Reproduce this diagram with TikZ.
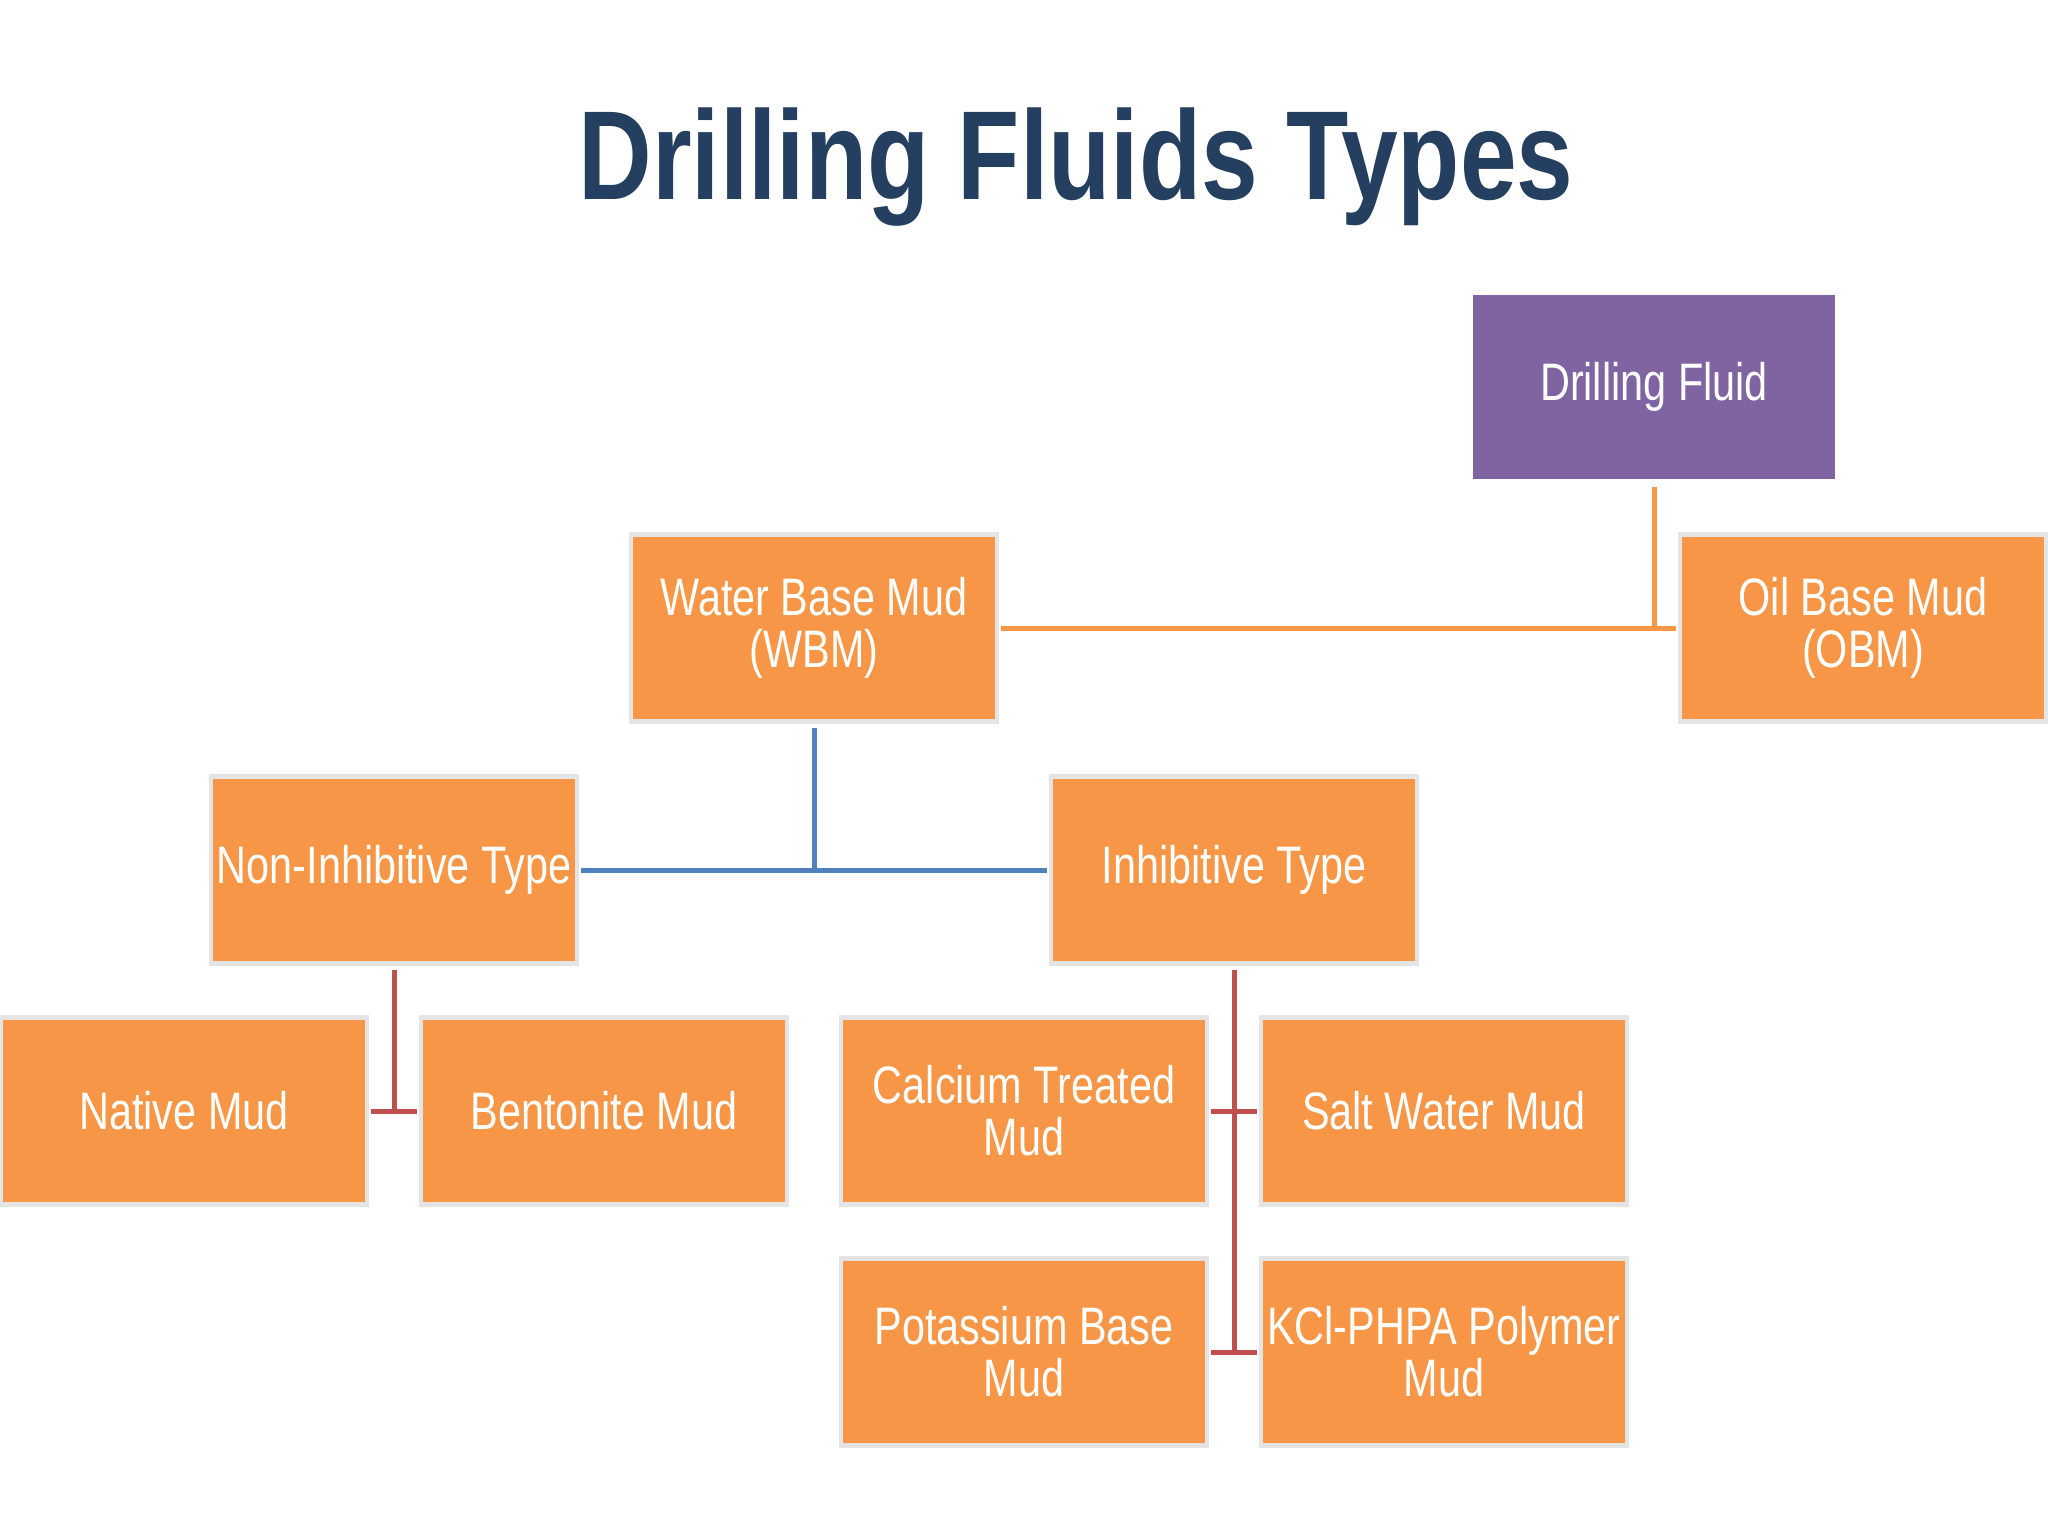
\documentclass[tikz,border=0pt]{standalone}
\usepackage{fontspec}
\newfontfamily\boxfont[FakeStretch=0.785]{Liberation Sans}
\newfontfamily\titlefont[FakeStretch=0.805]{Liberation Sans}
\definecolor{boxorange}{HTML}{F79646}
\definecolor{boxpurple}{HTML}{8064A2}
\definecolor{lineblue}{HTML}{4F81BD}
\definecolor{linered}{HTML}{C0504D}
\definecolor{titleblue}{HTML}{243F60}
\definecolor{bordergray}{HTML}{E4E4E4}
\tikzset{
  mudbox/.style={rectangle, fill=boxorange, draw=bordergray, line width=0.045cm,
    minimum width=3.66cm, minimum height=1.87cm, inner sep=0pt, align=center,
    text=white, font=\boxfont\fontsize{15}{14.8}\selectfont},
  rootbox/.style={mudbox, fill=boxpurple, draw=none, minimum width=3.62cm, minimum height=1.83cm},
  orangeline/.style={draw=boxorange, line width=0.05cm},
  blueline/.style={draw=lineblue, line width=0.05cm},
  redline/.style={draw=linered, line width=0.05cm},
}
\begin{document}
\begin{tikzpicture}[x=0.01cm, y=-0.01cm]
\useasboundingbox (0,0) rectangle (2048,1536);
\fill[white] (0,0) rectangle (2048,1536);
\node[anchor=base, text=titleblue, font=\titlefont\bfseries\fontsize{36}{40}\selectfont] (title) at (1076,199) {Drilling Fluids Types};

\node[rootbox] (df) at (1654,387) {Drilling Fluid};
\node[mudbox] (wbm) at (814,628) {Water Base Mud\\(WBM)};
\node[mudbox] (obm) at (1863,628) {Oil Base Mud\\(OBM)};
\node[mudbox] (noninh) at (394,870) {Non-Inhibitive Type};
\node[mudbox] (inh) at (1234,870) {Inhibitive Type};
\node[mudbox] (native) at (184,1111) {Native Mud};
\node[mudbox] (bent) at (604,1111) {Bentonite Mud};
\node[mudbox] (calc) at (1024,1111) {Calcium Treated\\Mud};
\node[mudbox] (salt) at (1444,1111) {Salt Water Mud};
\node[mudbox] (pot) at (1024,1352) {Potassium Base\\Mud};
\node[mudbox] (kcl) at (1444,1352) {KCl-PHPA Polymer\\Mud};

% orange connectors
\draw[orangeline, shorten <=0.06cm] (df.south) -- (df.south |- wbm.east);
\draw[orangeline, shorten <=0.02cm, shorten >=0.02cm] (wbm.east) -- (obm.west);
% blue connectors
\draw[blueline, shorten <=0.04cm] (wbm.south) -- (wbm.south |- noninh.east);
\draw[blueline, shorten <=0.02cm, shorten >=0.02cm] (noninh.east) -- (inh.west);
% red connectors
\draw[redline, shorten <=0.04cm] (noninh.south) -- (noninh.south |- native.east);
\draw[redline, shorten <=0.02cm, shorten >=0.02cm] (native.east) -- (bent.west);
\draw[redline, shorten <=0.04cm] (inh.south) -- (inh.south |- pot.east);
\draw[redline, shorten <=0.02cm, shorten >=0.02cm] (calc.east) -- (salt.west);
\draw[redline, shorten <=0.02cm, shorten >=0.02cm] (pot.east) -- (kcl.west);
\end{tikzpicture}
\end{document}
